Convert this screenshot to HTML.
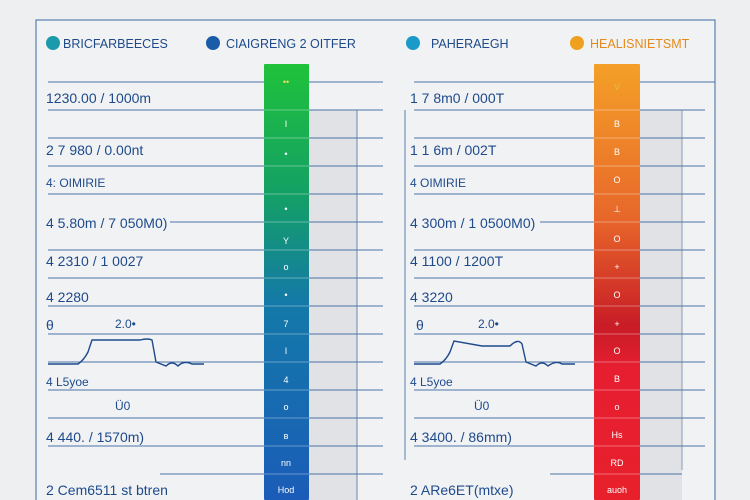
<!DOCTYPE html>
<html><head><meta charset="utf-8"><style>
html,body{margin:0;padding:0;background:#eeeff1;}
svg{display:block;font-family:"Liberation Sans",sans-serif;}
</style></head><body>
<svg width="750" height="500" viewBox="0 0 750 500" xmlns="http://www.w3.org/2000/svg">
<defs>
<linearGradient id="g1" x1="0" y1="0" x2="0" y2="1">
<stop offset="0" stop-color="#1fc23a"/><stop offset="0.3" stop-color="#14a066"/><stop offset="0.55" stop-color="#1479a8"/><stop offset="1" stop-color="#1a5cb8"/></linearGradient>
<linearGradient id="g2" x1="0" y1="0" x2="0" y2="1">
<stop offset="0" stop-color="#f4a028"/><stop offset="0.35" stop-color="#e8682a"/><stop offset="0.6" stop-color="#c81c26"/><stop offset="0.7" stop-color="#e61e30"/><stop offset="1" stop-color="#e8202c"/></linearGradient>
</defs>
<rect width="750" height="500" fill="#eeeff1"/>
<rect x="36" y="20" width="679" height="490" fill="#f1f2f4" stroke="#5a7fb0" stroke-width="1.2"/>
<rect x="309" y="110" width="48" height="400" fill="#e0e2e5"/>
<rect x="640" y="110" width="42" height="400" fill="#e0e2e5"/>
<line x1="357" y1="110" x2="357" y2="500" stroke="#6d88ad"/>
<line x1="682" y1="110" x2="682" y2="470" stroke="#8a9cb8"/>
<line x1="405" y1="110" x2="405" y2="460" stroke="#5a7fb0"/>
<g stroke="#4e74a8" stroke-width="1.1">
<line x1="48" y1="82" x2="383" y2="82"/><line x1="414" y1="82" x2="715" y2="82"/>
<line x1="48" y1="110" x2="383" y2="110"/><line x1="414" y1="110" x2="705" y2="110"/>
<line x1="48" y1="138" x2="383" y2="138"/><line x1="414" y1="138" x2="705" y2="138"/>
<line x1="48" y1="166" x2="383" y2="166"/><line x1="414" y1="166" x2="705" y2="166"/>
<line x1="48" y1="194" x2="383" y2="194"/><line x1="414" y1="194" x2="705" y2="194"/>
<line x1="170" y1="222" x2="383" y2="222"/><line x1="540" y1="222" x2="705" y2="222"/>
<line x1="48" y1="250" x2="383" y2="250"/><line x1="414" y1="250" x2="705" y2="250"/>
<line x1="48" y1="278" x2="383" y2="278"/><line x1="414" y1="278" x2="705" y2="278"/>
<line x1="48" y1="306" x2="383" y2="306"/><line x1="414" y1="306" x2="705" y2="306"/>
<line x1="48" y1="334" x2="383" y2="334"/><line x1="414" y1="334" x2="705" y2="334"/>
<line x1="48" y1="362" x2="383" y2="362"/><line x1="414" y1="362" x2="705" y2="362"/>
<line x1="48" y1="390" x2="383" y2="390"/><line x1="414" y1="390" x2="705" y2="390"/>
<line x1="48" y1="418" x2="383" y2="418"/><line x1="414" y1="418" x2="705" y2="418"/>
<line x1="48" y1="446" x2="383" y2="446"/><line x1="414" y1="446" x2="705" y2="446"/>
<line x1="160" y1="474" x2="383" y2="474"/><line x1="550" y1="474" x2="682" y2="474"/>
</g>
<rect x="264" y="64" width="45" height="436" fill="url(#g1)" rx="1"/>
<rect x="594" y="64" width="46" height="436" fill="url(#g2)" rx="1"/>
<g stroke="#ffffff" stroke-opacity="0.35">
<line x1="264" y1="110" x2="309" y2="110"/><line x1="264" y1="138" x2="309" y2="138"/><line x1="264" y1="166" x2="309" y2="166"/><line x1="264" y1="194" x2="309" y2="194"/><line x1="264" y1="222" x2="309" y2="222"/><line x1="264" y1="250" x2="309" y2="250"/><line x1="264" y1="278" x2="309" y2="278"/><line x1="264" y1="306" x2="309" y2="306"/><line x1="264" y1="334" x2="309" y2="334"/><line x1="264" y1="362" x2="309" y2="362"/><line x1="264" y1="390" x2="309" y2="390"/><line x1="264" y1="418" x2="309" y2="418"/><line x1="264" y1="446" x2="309" y2="446"/><line x1="264" y1="474" x2="309" y2="474"/>
<line x1="594" y1="110" x2="640" y2="110"/><line x1="594" y1="138" x2="640" y2="138"/><line x1="594" y1="166" x2="640" y2="166"/><line x1="594" y1="194" x2="640" y2="194"/><line x1="594" y1="222" x2="640" y2="222"/><line x1="594" y1="250" x2="640" y2="250"/><line x1="594" y1="278" x2="640" y2="278"/><line x1="594" y1="306" x2="640" y2="306"/><line x1="594" y1="334" x2="640" y2="334"/><line x1="594" y1="362" x2="640" y2="362"/><line x1="594" y1="390" x2="640" y2="390"/><line x1="594" y1="418" x2="640" y2="418"/><line x1="594" y1="446" x2="640" y2="446"/><line x1="594" y1="474" x2="640" y2="474"/>
</g>
<g fill="#ffffff" font-size="9" text-anchor="middle">
<text x="286" y="85" fill="#e8e060">••</text><text x="286" y="127">I</text><text x="286" y="157">•</text><text x="286" y="212">•</text><text x="286" y="244">Y</text><text x="286" y="270">o</text><text x="286" y="298">•</text><text x="286" y="327">7</text><text x="286" y="354">I</text><text x="286" y="383">4</text><text x="286" y="410">o</text><text x="286" y="439">в</text><text x="286" y="466">nn</text><text x="286" y="493">Hod</text>
<text x="617" y="90" fill="#e0c040">V</text><text x="617" y="127">B</text><text x="617" y="155">B</text><text x="617" y="183">O</text><text x="617" y="212">⊥</text><text x="617" y="242">O</text><text x="617" y="270">+</text><text x="617" y="298">O</text><text x="617" y="327">+</text><text x="617" y="354">O</text><text x="617" y="382">B</text><text x="617" y="410">o</text><text x="617" y="438">Hs</text><text x="617" y="466">RD</text><text x="617" y="493">auoh</text>
</g>
<circle cx="53" cy="43" r="7" fill="#1a9aaa"/><circle cx="213" cy="43" r="7" fill="#1a5ca8"/>
<circle cx="413" cy="43" r="7" fill="#1a9ac8"/><circle cx="577" cy="43" r="7" fill="#f0a020"/>
<g font-size="12.5" fill="#1e4a8c">
<text x="63" y="48">BRICFARBEECES</text><text x="226" y="48">CIAIGRENG 2 OITFER</text>
<text x="431" y="48">PAHERAEGH</text><text x="590" y="48" fill="#e58a1a">HEALISNIETSMT</text>
</g>
<g font-size="14" fill="#1e4a8c">
<text x="46" y="103">1230.00 / 1000m</text><text x="46" y="155">2 7 980 / 0.00nt</text>
<text x="46" y="187" font-size="12">4: OIMIRIE</text><text x="46" y="228">4 5.80m / 7 050M0)</text>
<text x="46" y="266">4 2310 / 1 0027</text><text x="46" y="302">4 2280</text>
<text x="46" y="330">θ</text><text x="115" y="328" font-size="12">2.0•</text>
<text x="46" y="386" font-size="12">4 L5yoe</text><text x="115" y="410" font-size="12">Ü0</text>
<text x="46" y="442">4 440. / 1570m)</text><text x="46" y="495">2 Cem6511 st btren</text>
<text x="410" y="103">1 7 8m0 / 000T</text><text x="410" y="155">1 1 6m / 002T</text>
<text x="410" y="187" font-size="12">4 OIMIRIE</text><text x="410" y="228">4 300m / 1 0500M0)</text>
<text x="410" y="266">4 1100 / 1200T</text><text x="410" y="302">4 3220</text>
<text x="416" y="330">θ</text><text x="478" y="328" font-size="12">2.0•</text>
<text x="410" y="386" font-size="12">4 L5yoe</text><text x="474" y="410" font-size="12">Ü0</text>
<text x="410" y="442">4 3400. / 86mm)</text><text x="410" y="495">2 ARe6ET(mtxe)</text>
</g>
<g fill="none" stroke="#1e4a8c" stroke-width="1.4">
<path d="M48 364 L78 364 Q84 360 88 352 L92 340 L140 340 Q148 338 152 340 L156 362 L166 366 Q172 360 178 366 Q184 360 192 364 L204 364"/>
<path d="M414 364 L440 364 Q446 360 450 352 L454 341 L482 346 L510 346 Q518 338 522 344 L526 362 L536 366 Q542 360 548 366 Q556 360 562 364 L575 364"/>
</g>
</svg>
</body></html>
